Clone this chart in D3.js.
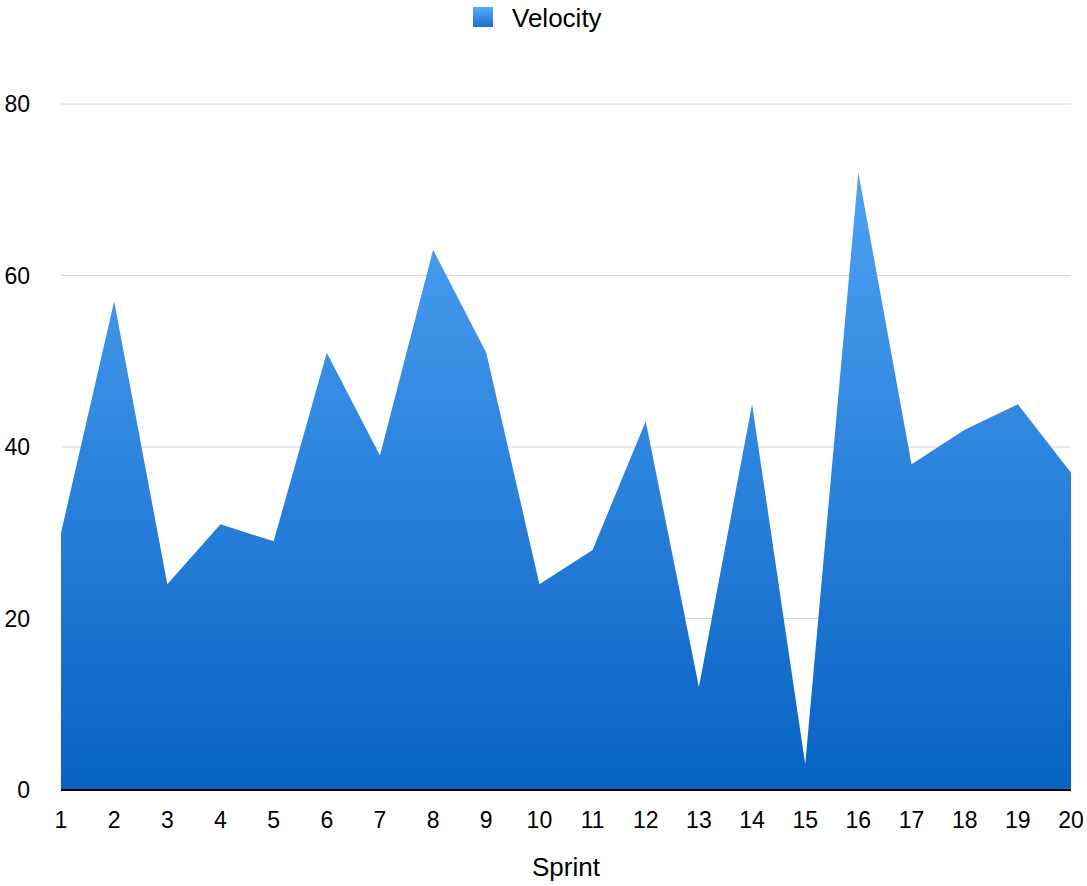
<!DOCTYPE html>
<meta charset="utf-8">
<title>Velocity</title>
<style>
  body { margin: 0; background: #fff; font-family: "Liberation Sans", Arial, sans-serif; }
  text { fill: #000; }
</style>
<body>
<svg width="1087" height="886"></svg>
<script src="https://d3js.org/d3.v7.min.js"></script>
<script>
const sprints = d3.range(1, 21);
const velocity = [30, 57, 24, 31, 29, 51, 39, 63, 51, 24, 28, 43, 12, 45, 3, 72, 38, 42, 45, 37];
const yTicks = [0, 20, 40, 60, 80];

const svg = d3.select("svg");
const x = d3.scaleLinear().domain([1, 20]).range([61, 1071]);
const y = d3.scaleLinear().domain([0, 80]).range([790, 104]);

const defs = svg.append("defs");
const grad = defs.append("linearGradient").attr("id", "fill")
  .attr("gradientUnits", "userSpaceOnUse")
  .attr("x1", 0).attr("x2", 0).attr("y1", y(72)).attr("y2", y(0));
grad.append("stop").attr("offset", 0).attr("stop-color", "#4ea2f2");
grad.append("stop").attr("offset", 1).attr("stop-color", "#0862c3");

const lgrad = defs.append("linearGradient").attr("id", "leg")
  .attr("x1", 0).attr("x2", 0).attr("y1", 0).attr("y2", 1);
lgrad.append("stop").attr("offset", 0).attr("stop-color", "#5aaaf5");
lgrad.append("stop").attr("offset", 1).attr("stop-color", "#1a70d0");

// gridlines
svg.append("g").selectAll("line").data(yTicks.filter(d => d > 0)).join("line")
  .attr("x1", 61).attr("x2", 1071)
  .attr("y1", d => y(d)).attr("y2", d => y(d))
  .attr("stroke", "#d4d4d4").attr("stroke-width", 1);

svg.append("path")
  .datum(velocity)
  .attr("fill", "url(#fill)")
  .attr("d", d3.area().x((d, i) => x(sprints[i])).y0(y(0)).y1(d => y(d)));

svg.append("line").attr("x1", 61).attr("x2", 1071)
  .attr("y1", y(0)).attr("y2", y(0)).attr("stroke", "#000").attr("stroke-width", 2);

// y labels
svg.append("g").selectAll("text").data(yTicks).join("text")
  .attr("x", 30).attr("y", d => y(d) + 8)
  .attr("text-anchor", "end").attr("font-size", 23).text(d => d);

// x labels
svg.append("g").selectAll("text").data(sprints).join("text")
  .attr("x", d => x(d)).attr("y", 828)
  .attr("text-anchor", "middle").attr("font-size", 23).text(d => d);

svg.append("text").attr("x", 566).attr("y", 876)
  .attr("text-anchor", "middle").attr("font-size", 26).text("Sprint");

// legend
svg.append("rect").attr("x", 473).attr("y", 7).attr("width", 20).attr("height", 20)
  .attr("fill", "url(#leg)");
svg.append("text").attr("x", 512).attr("y", 27).attr("font-size", 26).text("Velocity");
</script>
</body>
